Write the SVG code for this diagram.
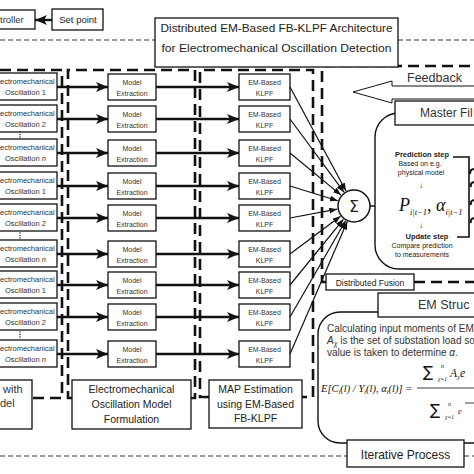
<svg xmlns="http://www.w3.org/2000/svg" width="474" height="474" viewBox="0 0 474 474">
<defs>
<style>
.box{fill:#fff;stroke:#111;stroke-width:1.3}
.thk{stroke:#111;stroke-width:2.4;fill:none}
.thn{stroke:#111;stroke-width:1.2;fill:none}
.rg{fill:none;stroke:#111;stroke-width:2.6;stroke-dasharray:11 6}
.td{fill:none;stroke:#333;stroke-width:1;stroke-dasharray:5 3}
.s{font-family:"Liberation Sans",Arial,sans-serif;fill:#333}
.sm{font-family:"Liberation Sans",Arial,sans-serif;fill:#333;font-size:7px;text-anchor:middle}
.lb{font-family:"Liberation Sans",Arial,sans-serif;fill:#333;font-size:7.5px}
.m{font-family:"Liberation Sans",Arial,sans-serif;fill:#222;text-anchor:middle}
.sf{font-family:"Liberation Serif","Times New Roman",serif;font-style:italic;fill:#111}
</style>
<marker id="ah" markerUnits="userSpaceOnUse" markerWidth="12" markerHeight="10" refX="12" refY="5" orient="auto"><path d="M0,0 L12,5 L0,10 L3,5 z" fill="#111"/></marker>
<marker id="at" markerUnits="userSpaceOnUse" markerWidth="8" markerHeight="6" refX="8" refY="3" orient="auto"><path d="M0,0 L8,3 L0,6 z" fill="#111"/></marker>
</defs>
<rect width="474" height="474" fill="#fff"/>

<g id="regions">
<path class="td" d="M0,40 H155 M398,40 H474"/>
<path class="td" d="M0,456 H347 M464,456 H474"/>
<path class="rg" d="M0,70 H62 V398 H32"/>
<path class="rg" d="M72,398 H68 V70 H195 V398 H191"/>
<path class="rg" d="M209,397 H200 V70 H313 V397 H302"/>
<path class="rg" d="M326,282 H322 V66 H474"/>
<path class="rg" d="M414,282 H474"/>
</g>

<g id="title">
<rect class="box" x="155" y="18" width="243" height="49"/>
<text class="m" x="276.5" y="32" font-size="11.5" textLength="232" lengthAdjust="spacingAndGlyphs">Distributed EM-Based FB-KLPF Architecture</text>
<text class="m" x="276.5" y="52" font-size="11.5" textLength="230" lengthAdjust="spacingAndGlyphs">for Electromechanical Oscillation Detection</text>
</g>

<g id="controller">
<rect class="box" x="-5" y="10" width="40" height="19"/>
<text class="s" x="0" y="23" font-size="9.5">troller</text>
</g>
<g id="setpoint">
<rect class="box" x="52" y="9" width="51" height="21"/>
<text class="m" x="78" y="23" font-size="9.5">Set point</text>
</g>

<g id="osc1"><rect class="box" x="-5" y="73" width="62" height="27"/><text class="lb" x="0" y="84">ectromechanical</text><text class="lb" x="5" y="95">Oscillation 1</text></g>
<g id="osc2"><rect class="box" x="-5" y="105" width="62" height="27"/><text class="lb" x="0" y="116">ectromechanical</text><text class="lb" x="5" y="127">Oscillation 2</text></g>
<g id="osc3"><rect class="box" x="-5" y="139" width="62" height="27"/><text class="lb" x="0" y="150">ectromechanical</text><text class="lb" x="5" y="161">Oscillation <tspan font-style="italic">n</tspan></text></g>
<g id="osc4"><rect class="box" x="-5" y="172" width="62" height="27"/><text class="lb" x="0" y="183">ectromechanical</text><text class="lb" x="5" y="194">Oscillation 1</text></g>
<g id="osc5"><rect class="box" x="-5" y="204" width="62" height="27"/><text class="lb" x="0" y="215">ectromechanical</text><text class="lb" x="5" y="226">Oscillation 2</text></g>
<g id="osc6"><rect class="box" x="-5" y="240" width="62" height="27"/><text class="lb" x="0" y="251">ectromechanical</text><text class="lb" x="5" y="262">Oscillation <tspan font-style="italic">n</tspan></text></g>
<g id="osc7"><rect class="box" x="-5" y="271" width="62" height="27"/><text class="lb" x="0" y="282">ectromechanical</text><text class="lb" x="5" y="293">Oscillation 1</text></g>
<g id="osc8"><rect class="box" x="-5" y="303" width="62" height="27"/><text class="lb" x="0" y="314">ectromechanical</text><text class="lb" x="5" y="325">Oscillation 2</text></g>
<g id="osc9"><rect class="box" x="-5" y="340" width="62" height="27"/><text class="lb" x="0" y="351">ectromechanical</text><text class="lb" x="5" y="362">Oscillation <tspan font-style="italic">n</tspan></text></g>
<g id="dots" fill="#333"><circle cx="20" cy="134.5" r="0.8"/><circle cx="20" cy="137" r="0.8"/><circle cx="20" cy="132" r="0.8"/><circle cx="20" cy="233" r="0.8"/><circle cx="20" cy="235.5" r="0.8"/><circle cx="20" cy="238" r="0.8"/><circle cx="20" cy="332" r="0.8"/><circle cx="20" cy="334.5" r="0.8"/><circle cx="20" cy="337" r="0.8"/></g>

<g id="withmodel"><rect class="box" x="-5" y="380" width="37" height="49"/><text class="s" x="3" y="393" font-size="11">with</text><text class="s" x="0" y="407" font-size="11">del</text></g>

<g id="me1"><rect class="box" x="108" y="74" width="48" height="26"/><text class="sm" x="132" y="85">Model</text><text class="sm" x="132" y="96">Extraction</text></g>
<g id="me2"><rect class="box" x="108" y="106" width="48" height="26"/><text class="sm" x="132" y="117">Model</text><text class="sm" x="132" y="128">Extraction</text></g>
<g id="me3"><rect class="box" x="108" y="140" width="48" height="26"/><text class="sm" x="132" y="151">Model</text><text class="sm" x="132" y="162">Extraction</text></g>
<g id="me4"><rect class="box" x="108" y="173" width="48" height="26"/><text class="sm" x="132" y="184">Model</text><text class="sm" x="132" y="195">Extraction</text></g>
<g id="me5"><rect class="box" x="108" y="205" width="48" height="26"/><text class="sm" x="132" y="216">Model</text><text class="sm" x="132" y="227">Extraction</text></g>
<g id="me6"><rect class="box" x="108" y="241" width="48" height="26"/><text class="sm" x="132" y="252">Model</text><text class="sm" x="132" y="263">Extraction</text></g>
<g id="me7"><rect class="box" x="108" y="272" width="48" height="26"/><text class="sm" x="132" y="283">Model</text><text class="sm" x="132" y="294">Extraction</text></g>
<g id="me8"><rect class="box" x="108" y="304" width="48" height="26"/><text class="sm" x="132" y="315">Model</text><text class="sm" x="132" y="326">Extraction</text></g>
<g id="me9"><rect class="box" x="108" y="341" width="48" height="26"/><text class="sm" x="132" y="352">Model</text><text class="sm" x="132" y="363">Extraction</text></g>

<g id="kl1"><rect class="box" x="239" y="74" width="51" height="26"/><text class="sm" x="264.5" y="85">EM-Based</text><text class="sm" x="264.5" y="96">KLPF</text></g>
<g id="kl2"><rect class="box" x="239" y="106" width="51" height="26"/><text class="sm" x="264.5" y="117">EM-Based</text><text class="sm" x="264.5" y="128">KLPF</text></g>
<g id="kl3"><rect class="box" x="239" y="140" width="51" height="26"/><text class="sm" x="264.5" y="151">EM-Based</text><text class="sm" x="264.5" y="162">KLPF</text></g>
<g id="kl4"><rect class="box" x="239" y="173" width="51" height="26"/><text class="sm" x="264.5" y="184">EM-Based</text><text class="sm" x="264.5" y="195">KLPF</text></g>
<g id="kl5"><rect class="box" x="239" y="205" width="51" height="26"/><text class="sm" x="264.5" y="216">EM-Based</text><text class="sm" x="264.5" y="227">KLPF</text></g>
<g id="kl6"><rect class="box" x="239" y="241" width="51" height="26"/><text class="sm" x="264.5" y="252">EM-Based</text><text class="sm" x="264.5" y="263">KLPF</text></g>
<g id="kl7"><rect class="box" x="239" y="272" width="51" height="26"/><text class="sm" x="264.5" y="283">EM-Based</text><text class="sm" x="264.5" y="294">KLPF</text></g>
<g id="kl8"><rect class="box" x="239" y="304" width="51" height="26"/><text class="sm" x="264.5" y="315">EM-Based</text><text class="sm" x="264.5" y="326">KLPF</text></g>
<g id="kl9"><rect class="box" x="239" y="341" width="51" height="26"/><text class="sm" x="264.5" y="352">EM-Based</text><text class="sm" x="264.5" y="363">KLPF</text></g>

<g id="formulation"><rect class="box" x="72" y="380" width="119" height="49"/><text class="m" x="131.5" y="393" font-size="10.5">Electromechanical</text><text class="m" x="131.5" y="408" font-size="10.5">Oscillation Model</text><text class="m" x="131.5" y="423" font-size="10.5">Formulation</text></g>
<g id="map"><rect class="box" x="209" y="380" width="93" height="48"/><text class="m" x="255.5" y="393" font-size="10.5">MAP Estimation</text><text class="m" x="255.5" y="408" font-size="10.5">using EM-Based</text><text class="m" x="255.5" y="422" font-size="10.5">FB-KLPF</text></g>

<g id="connectors">
<line class="thk" x1="52" y1="20" x2="35" y2="20" marker-end="url(#ah)"/>
<g class="thk" marker-end="url(#ah)">
<line x1="57" y1="87" x2="108" y2="87"/><line x1="57" y1="119" x2="108" y2="119"/><line x1="57" y1="153" x2="108" y2="153"/>
<line x1="57" y1="186" x2="108" y2="186"/><line x1="57" y1="218" x2="108" y2="218"/><line x1="57" y1="254" x2="108" y2="254"/>
<line x1="57" y1="285" x2="108" y2="285"/><line x1="57" y1="317" x2="108" y2="317"/><line x1="57" y1="354" x2="108" y2="354"/>
<line x1="156" y1="87" x2="239" y2="87"/><line x1="156" y1="119" x2="239" y2="119"/><line x1="156" y1="153" x2="239" y2="153"/>
<line x1="156" y1="186" x2="239" y2="186"/><line x1="156" y1="218" x2="239" y2="218"/><line x1="156" y1="254" x2="239" y2="254"/>
<line x1="156" y1="285" x2="239" y2="285"/><line x1="156" y1="317" x2="239" y2="317"/><line x1="156" y1="354" x2="239" y2="354"/>
</g>
<g class="thn" marker-end="url(#at)">
<line x1="290" y1="87" x2="346" y2="191"/><line x1="290" y1="119" x2="344" y2="192.2"/><line x1="290" y1="153" x2="341" y2="195.1"/>
<line x1="290" y1="186" x2="337.8" y2="200.8"/><line x1="290" y1="218" x2="337.3" y2="209.2"/><line x1="290" y1="254" x2="340.5" y2="216.3"/>
<line x1="290" y1="285" x2="343.4" y2="219.3"/><line x1="290" y1="317" x2="345.6" y2="220.8"/><line x1="290" y1="354" x2="347.3" y2="221.6"/>
</g>
<line x1="370" y1="206" x2="398" y2="206" stroke="#111" stroke-width="1.5" marker-end="url(#at)"/>
</g>

<g id="sum"><circle cx="354" cy="206" r="16" fill="#fff" stroke="#111" stroke-width="1.5"/><text x="354" y="212" font-family="'DejaVu Sans',sans-serif" font-size="16" fill="#222" text-anchor="middle">Σ</text></g>

<g id="fusion"><rect class="box" x="326" y="274" width="88" height="16"/><text class="m" x="370" y="285.5" font-size="8.5">Distributed Fusion</text></g>

<g id="feedback">
<polygon points="353,92 392,81 392,86 480,86 480,99 392,99 392,103" fill="#fff" stroke="#111" stroke-width="1"/>
<text class="s" x="407" y="82" font-size="12.5">Feedback</text>
</g>

<g id="masterfilter">
<rect x="375" y="113" width="140" height="156" rx="24" fill="#fff" stroke="#111" stroke-width="1.4"/>
<rect class="box" x="395" y="101" width="100" height="24"/>
<text class="s" x="420" y="117" font-size="12">Master Fil</text>
<text class="m" x="422" y="157" font-size="7.5" font-weight="bold">Prediction step</text>
<text class="m" x="420" y="166" font-size="7">Based on e.g.</text>
<text class="m" x="421" y="175" font-size="7">physical model</text>
<text class="m" x="421" y="188" font-size="8">↓</text>
<text class="sf" x="399" y="211" font-size="18">P<tspan font-size="8.5" dy="4">i|t−1</tspan><tspan font-style="normal" dy="-4">, </tspan>α<tspan font-size="8.5" dy="4">i|t−1</tspan></text>
<text class="m" x="421" y="228" font-size="8">↓</text>
<text class="m" x="427" y="239" font-size="7.5" font-weight="bold">Update step</text>
<text class="m" x="422" y="248" font-size="7">Compare prediction</text>
<text class="m" x="422" y="257" font-size="7">to measurements</text>
<path d="M453,157 H469 V237 H457" fill="none" stroke="#111" stroke-width="1.6"/>
<path d="M474,169 Q470,169 470,174 M474,182 Q470,183 471,187 M474,200 Q470,201 471,205 M474,218 Q470,219 471,223" fill="none" stroke="#111" stroke-width="2"/>
</g>

<g id="emstructure">
<rect x="318" y="312" width="200" height="131" rx="22" fill="#fff" stroke="#111" stroke-width="1.4"/>
<rect class="box" x="378" y="293" width="110" height="24"/>
<text class="s" x="418" y="309" font-size="12.5">EM Struc</text>
<text class="s" x="327" y="332" font-size="10">Calculating input moments of EM</text>
<text class="s" x="327" y="344" font-size="10"><tspan font-style="italic">A</tspan><tspan font-style="italic" font-size="7" dy="2">χ</tspan><tspan dy="-2"> is the set of substation load so</tspan></text>
<text class="s" x="327" y="356" font-size="10">value is taken to determine <tspan font-style="italic">α</tspan>.</text>
<text class="sf" x="321" y="392" font-size="10.5">E[C<tspan font-size="6.5" dy="2">t</tspan><tspan dy="-2">(l) / Υ</tspan><tspan font-size="6.5" dy="2">t</tspan><tspan dy="-2">(l), α</tspan><tspan font-size="6.5" dy="2">t</tspan><tspan dy="-2">(l)] =</tspan></text>
<line x1="417" y1="388" x2="474" y2="388" stroke="#111" stroke-width="0.8"/>
<text x="423" y="377" font-family="'DejaVu Sans',sans-serif" font-size="15" fill="#111">∑</text>
<text class="sf" x="441" y="368" font-size="6">n</text>
<text class="sf" x="438" y="381" font-size="5.5">χ=1</text>
<text class="sf" x="450" y="377" font-size="11.5">A<tspan font-size="6.5" dy="2">χ</tspan><tspan dy="-2">e</tspan></text>
<text x="430" y="415" font-family="'DejaVu Sans',sans-serif" font-size="15" fill="#111">∑</text>
<text class="sf" x="448" y="406" font-size="6">n</text>
<text class="sf" x="445" y="419" font-size="5.5">χ=1</text>
<text class="sf" x="458" y="414" font-size="8">e</text>
<line x1="465" y1="403" x2="474" y2="403" stroke="#111" stroke-width="0.8"/>
</g>

<g id="iterative"><rect class="box" x="347" y="440" width="117" height="27"/><text class="m" x="405.5" y="458.5" font-size="12">Iterative Process</text></g>
</svg>
